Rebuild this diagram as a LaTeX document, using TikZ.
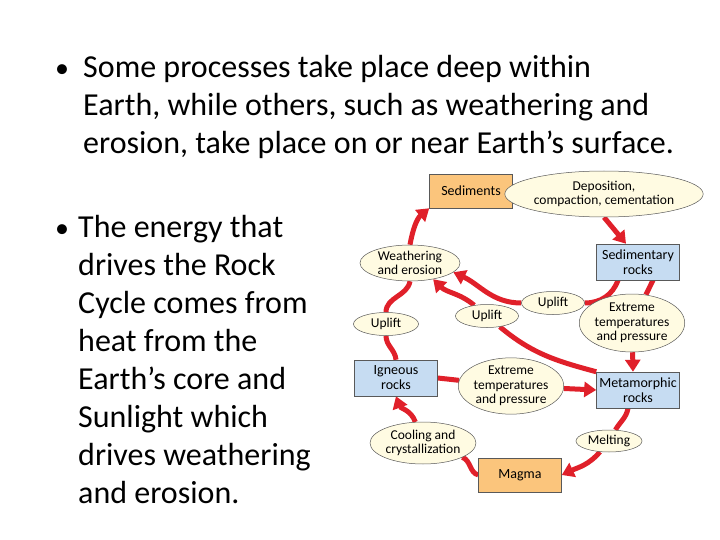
\documentclass[tikz,border=0pt]{standalone}
\usepackage{fontspec}
\setmainfont{Carlito}
\usetikzlibrary{arrows.meta,shapes.geometric,backgrounds}
\definecolor{arr}{HTML}{E0202A}
\definecolor{oran}{HTML}{FBC57C}
\definecolor{blu}{HTML}{C6DCF2}
\definecolor{ell}{HTML}{FFFBE2}
\begin{document}
\begin{tikzpicture}[x=1pt,y=-1pt,
  txt/.style={anchor=base west,font=\fontsize{32}{34}\selectfont,inner sep=0},
  bul/.style={anchor=base,font=\fontsize{28}{30}\selectfont,inner sep=0},
  obox/.style={draw=gray!70!black,line width=0.5pt,fill=oran,minimum width=83pt,minimum height=34pt,align=center,font=\fontsize{14}{15}\selectfont},
  bbox/.style={draw=gray!70!black,line width=0.5pt,fill=blu,minimum width=83pt,minimum height=36pt,align=center,font=\fontsize{14}{15}\selectfont,inner sep=1pt},
  oval/.style={ellipse,draw=gray!70!black,line width=0.5pt,fill=ell,align=center,font=\fontsize{13.5}{14.5}\selectfont,inner sep=0pt},
  flow/.style={draw=arr,line width=5pt},
  tip/.style={-{Triangle[length=12pt,width=15pt]}}]
\useasboundingbox (0,0) rectangle (720,540);
% text
\node[bul] (b1) at (62,78) {•};
\node[txt] (t1) at (83,78) {Some processes take place deep within};
\node[txt] (t2) at (83,116) {Earth, while others, such as weathering and};
\node[txt] (t3) at (83,154) {erosion, take place on or near Earth’s surface.};
\node[bul] (b2) at (62,237) {•};
\node[txt] (s1) at (78,237) {The energy that};
\node[txt] (s2) at (78,275) {drives the Rock};
\node[txt] (s3) at (78,313) {Cycle comes from};
\node[txt] (s4) at (78,351) {heat from the};
\node[txt] (s5) at (78,389) {Earth’s core and};
\node[txt] (s6) at (78,427) {Sunlight which};
\node[txt] (s7) at (78,465) {drives weathering};
\node[txt] (s8) at (78,503) {and erosion.};
% diagram nodes
\node[obox] (sed) at (471,191) {Sediments};
\node[oval,minimum width=156pt,minimum height=46pt] (dep) at (604,194) {Deposition,\\compaction, cementation};
\node[bbox] (sedr) at (638,262) {Sedimentary\\rocks};
\node[oval,minimum width=100pt,minimum height=36pt] (wea) at (410,263) {Weathering\\and erosion};
\node[oval,minimum width=63pt,minimum height=23pt] (up2) at (553,303) {Uplift};
\node[oval,minimum width=63pt,minimum height=23pt] (up3) at (487,316) {Uplift};
\node[oval,minimum width=65pt,minimum height=23pt] (up1) at (386,324) {Uplift};
\node[oval,minimum width=94pt,minimum height=58pt] (ext1) at (632,323) {Extreme\\temperatures\\and pressure};
\node[bbox] (ign) at (396,378) {Igneous\\rocks};
\node[oval,minimum width=92pt,minimum height=53pt] (ext2) at (511,386) {Extreme\\temperatures\\and pressure};
\node[bbox] (meta) at (638,390) {Metamorphic\\rocks};
\node[oval,minimum width=66pt,minimum height=22pt] (melt) at (609,441) {Melting};
\node[oval,minimum width=100pt,minimum height=42pt] (cool) at (423,443) {Cooling and\\crystallization};
\node[obox] (mag) at (520,475) {Magma};
\begin{scope}[on background layer]
\draw[flow] (sed.east) -- (dep.west);
\draw[flow,tip] (dep.south) -- ([xshift=-12pt]sedr.north);
\draw[flow,tip] ([xshift=-20pt]sedr.south) to[out=-110,in=0] (up2) to[out=180,in=-25] (wea.-12);
\draw[flow,tip] ([xshift=15pt]sedr.south) -- (ext1) -- ([xshift=-5pt]meta.north);
\draw[flow,tip] (meta.north west) to[out=165,in=-40] (up3) to[out=140,in=-45] (wea.-35);
\draw[flow,tip] (ign.east) -- (ext2) -- (meta.west);
\draw[flow,tip] ([xshift=-10pt]meta.south) to[out=-100,in=60] (melt) to[out=-130,in=25] (mag.east);
\draw[flow,tip] (mag.west) to[out=165,in=-20] (cool) to[out=110,in=-70] (ign.south);
\draw[flow] (ign.north) to[out=95,in=-90] (up1) to[out=90,in=-100] (wea.south);
\draw[flow,tip] (wea.north) to[out=80,in=-140] (sed.south west);
\end{scope}
\end{tikzpicture}
\end{document}
